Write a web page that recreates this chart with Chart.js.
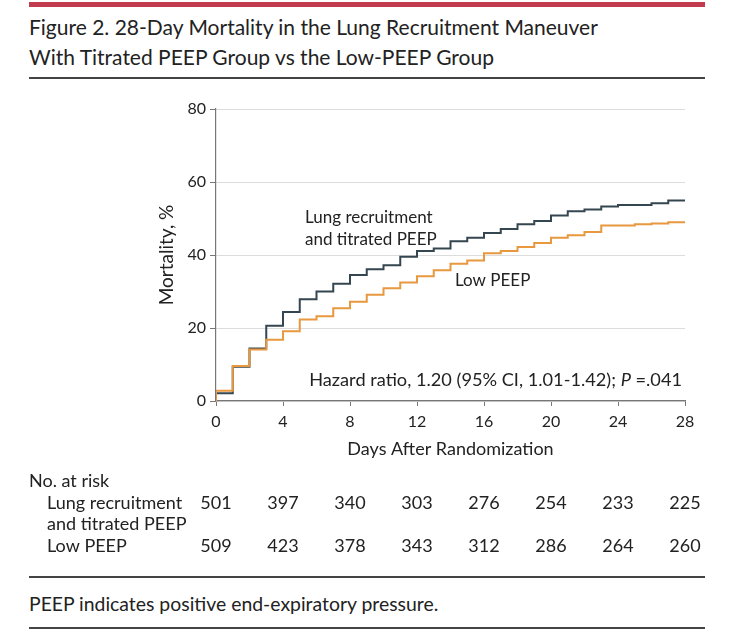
<!DOCTYPE html>
<html>
<head>
<meta charset="utf-8">
<script src="https://cdn.jsdelivr.net/npm/chart.js@4"></script>
<style>
  body { margin: 0; background: #fff; width: 750px; height: 643px; position: relative; overflow: hidden;
         font-family: Lato, "Liberation Sans", sans-serif; color: #222; }
  .bar { position: absolute; left: 29px; width: 676px; }
  #title { position: absolute; left: 29px; top: 12px; font-size: 21px; line-height: 30px; color: #222; }
  #note { position: absolute; left: 29px; top: 591px; font-size: 19.4px; line-height: 26px; color: #222; }
  #km { position: absolute; left: 0; top: 80px; }
</style>
</head>
<body>
<div class="bar" style="top:2px;height:5px;background:#c23b4e"></div>
<div id="title">Figure 2. 28-Day Mortality in the Lung Recruitment Maneuver<br>With Titrated PEEP Group vs the Low-PEEP Group</div>
<div class="bar" style="top:77px;height:1.5px;background:#444"></div>
<canvas id="km" width="750" height="500"></canvas>
<div class="bar" style="top:576px;height:1.5px;background:#444"></div>
<div id="note">PEEP indicates positive end-expiratory pressure.</div>
<div class="bar" style="top:627px;height:1.5px;background:#444"></div>
<script>
// Kaplan-Meier steps: value holds from day d to d+1
const days = [0, 1, 2, 3, 4, 5, 6, 7, 8, 9, 10, 11, 12, 13, 14, 15, 16, 17, 18, 19, 20, 21, 22, 23, 24, 25, 26, 27, 28];
const lungRecruitment = [2.1, 9.4, 14.4, 20.6, 24.4, 27.9, 30.0, 32.1, 34.5, 36.1, 37.2, 39.5, 41.1, 41.8, 43.8,
                         44.7, 46.0, 47.1, 48.4, 49.3, 50.8, 52.0, 52.5, 53.3, 53.7, 53.7, 54.2, 54.9, 54.9];
const lowPeep = [2.8, 9.6, 14.1, 16.8, 19.1, 22.3, 23.2, 25.4, 27.2, 29.1, 30.9, 32.5, 34.2, 35.8, 37.6,
                 38.5, 40.5, 41.1, 42.2, 43.3, 44.7, 45.4, 46.3, 48.1, 48.1, 48.4, 48.6, 49.0, 49.0];

const riskDays = [0, 4, 8, 12, 16, 20, 24, 28];
const riskLung = [501, 397, 340, 303, 276, 254, 233, 225];
const riskLow = [509, 423, 378, 343, 312, 286, 264, 260];

const FONT = 'Lato, "Liberation Sans", sans-serif';
const TEXT = '#222';

function toSteps(vals) {
    // start at the origin; each later point is reached by going across, then up
    const pts = [{ x: 0, y: 0 }];
    days.forEach((d, i) => {
        if (i === 0) { pts.push({ x: 0, y: vals[0] }); return; }
        pts.push({ x: d, y: vals[i - 1] });
        pts.push({ x: d, y: vals[i] });
    });
    return pts;
}

const textPlugin = {
    id: 'kmText',
    afterDraw(chart) {
        const ctx = chart.ctx;
        const area = chart.chartArea;
        const xs = chart.scales.x;
        ctx.save();
        ctx.fillStyle = TEXT;
        ctx.textBaseline = 'middle';

        // y axis title
        ctx.font = '19px ' + FONT;
        ctx.save();
        ctx.translate(167, (area.top + area.bottom) / 2);
        ctx.rotate(-Math.PI / 2);
        ctx.textAlign = 'center';
        ctx.fillText('Mortality, %', 0, 0);
        ctx.restore();

        // x axis title
        ctx.font = '18px ' + FONT;
        ctx.textAlign = 'center';
        ctx.fillText('Days After Randomization', (area.left + area.right) / 2, 369);

        // curve labels
        ctx.font = '17px ' + FONT;
        ctx.textAlign = 'left';
        ctx.fillText('Lung recruitment', 305, 138);
        ctx.fillText('and titrated PEEP', 305, 160);
        ctx.fillText('Low PEEP', 455, 201);

        // hazard ratio, with italic P
        const partA = 'Hazard ratio, 1.20 (95% CI, 1.01-1.42); ';
        const partB = 'P';
        const partC = ' =.041';
        ctx.font = '18.2px ' + FONT;
        const wA = ctx.measureText(partA).width;
        const wC = ctx.measureText(partC).width;
        ctx.font = 'italic 18.2px ' + FONT;
        const wB = ctx.measureText(partB).width;
        const hx = area.right - 3 - (wA + wB + wC);
        ctx.font = '18.2px ' + FONT;
        ctx.fillText(partA, hx, 300);
        ctx.font = 'italic 18.2px ' + FONT;
        ctx.fillText(partB, hx + wA, 300);
        ctx.font = '18.2px ' + FONT;
        ctx.fillText(partC, hx + wA + wB, 300);

        // number at risk table
        ctx.font = '18px ' + FONT;
        ctx.fillText('No. at risk', 29, 401);
        ctx.fillText('Lung recruitment', 47, 423);
        ctx.fillText('and titrated PEEP', 47, 444);
        ctx.fillText('Low PEEP', 47, 466);
        ctx.textAlign = 'center';
        riskDays.forEach((d, i) => {
            const px = xs.getPixelForValue(d);
            ctx.fillText(String(riskLung[i]), px, 423);
            ctx.fillText(String(riskLow[i]), px, 466);
        });
        ctx.restore();
    }
};

new Chart(document.getElementById('km'), {
    type: 'line',
    data: {
        datasets: [
            {
                label: 'Low PEEP',
                data: toSteps(lowPeep),
                borderColor: '#e8983f',
                borderWidth: 2,
                pointRadius: 0,
                fill: false
            },
            {
                label: 'Lung recruitment and titrated PEEP',
                data: toSteps(lungRecruitment),
                borderColor: '#34464f',
                borderWidth: 2,
                pointRadius: 0,
                fill: false
            }
        ]
    },
    options: {
        responsive: false,
        animation: false,
        layout: { padding: { top: 29, right: 65, left: 0, bottom: 0 } },
        plugins: { legend: { display: false }, tooltip: { enabled: false } },
        scales: {
            x: {
                type: 'linear',
                min: 0,
                max: 28,
                ticks: { stepSize: 4, padding: 6, color: TEXT, font: { family: FONT, size: 16 } },
                grid: { drawOnChartArea: false, tickLength: 5, tickColor: '#777' },
                border: { color: '#777', width: 1.2 },
                afterFit(s) { s.height = 179; }
            },
            y: {
                min: 0,
                max: 80,
                ticks: { stepSize: 20, padding: 4, color: TEXT, font: { family: FONT, size: 16 } },
                grid: { color: '#dcdcdc', tickLength: 6, tickColor: '#777' },
                border: { color: '#777', width: 1.2 },
                afterFit(s) { s.width = 216; }
            }
        }
    },
    plugins: [textPlugin]
});
</script>
</body>
</html>
